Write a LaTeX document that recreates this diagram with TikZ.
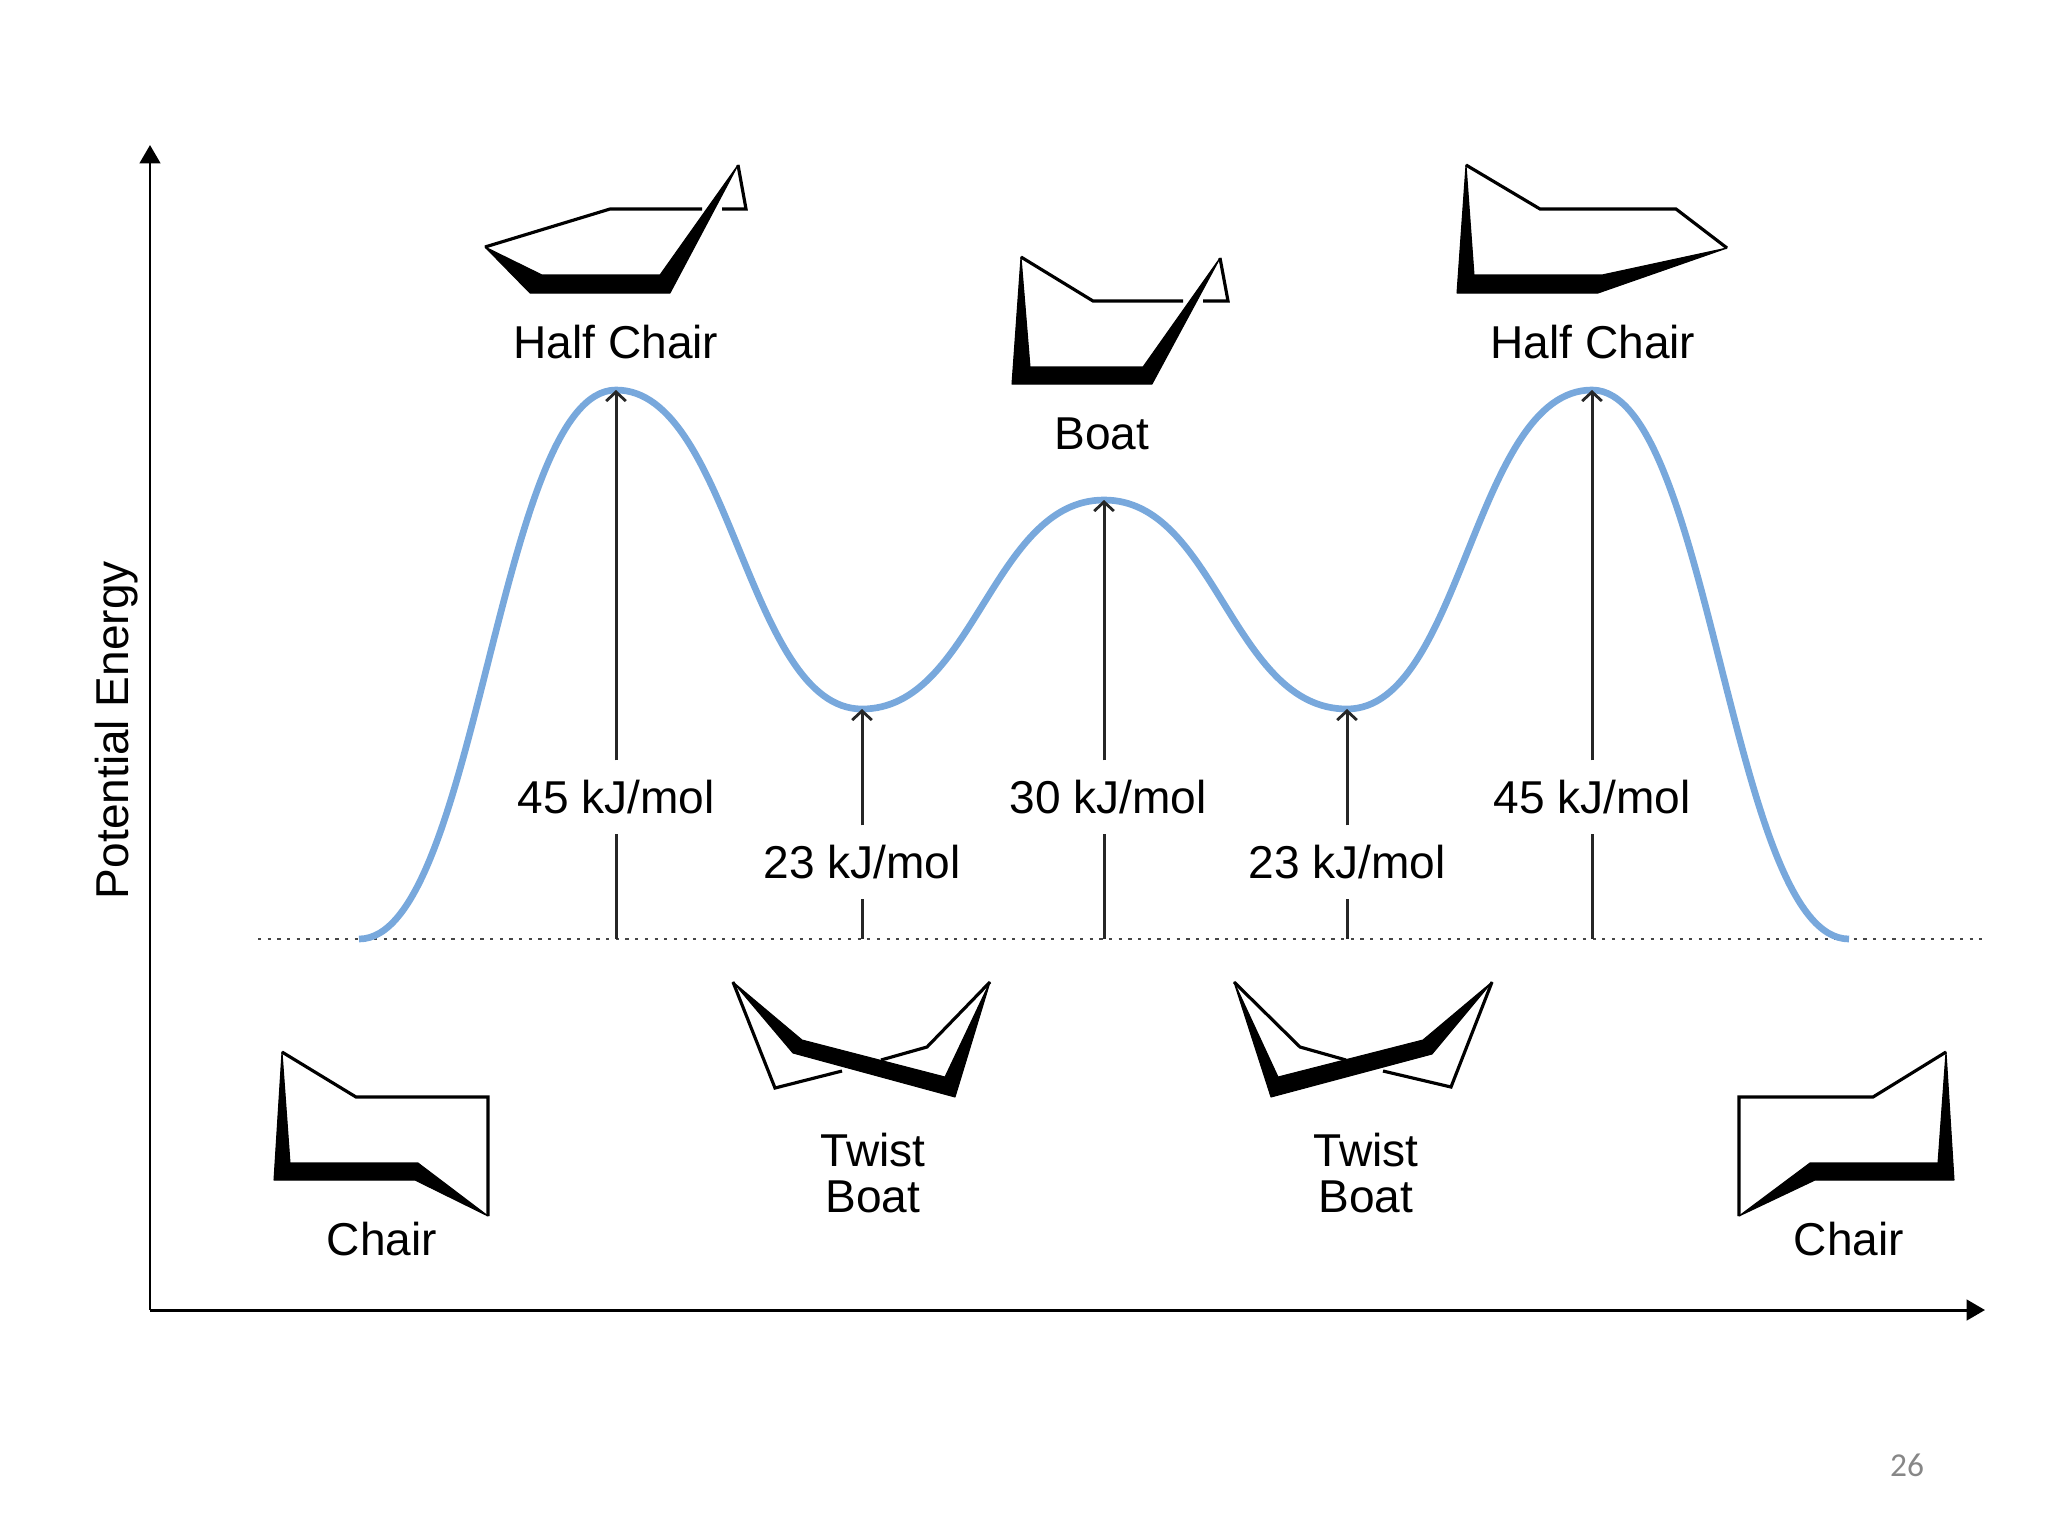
\documentclass[tikz,border=0pt]{standalone}
\usepackage{fontspec}
\setmainfont{Liberation Sans}
\newfontfamily\pagefont{Carlito}
\usetikzlibrary{positioning, arrows.meta}
\definecolor{curveblue}{RGB}{120,168,220}
\definecolor{dotgrey}{RGB}{70,70,70}
\definecolor{pagegrey}{RGB}{135,135,135}
\tikzset{
  axis/.style={line width=0.85pt,-{Triangle[length=5.2pt,width=5.8pt]}},
  bond/.style={line width=0.9pt,line join=miter,miter limit=10},
  wedge/.style={fill=black,draw=black,line width=0.3pt,line join=round},
  energy/.style={line width=0.85pt,draw=black!85},
  tip/.style={-{Straight Barb[length=2.6pt,width=5.6pt,line width=0.8pt]}},
  lab/.style={font=\fontsize{13.1pt}{13.2pt}\selectfont,align=center,inner sep=0pt},
  gap/.style={lab,minimum height=20.5pt,minimum width=10pt}
}
\begin{document}
\begin{tikzpicture}[x=0.01cm,y=-0.01cm]
\useasboundingbox (0,0) rectangle (2048,1536);
% axes
\coordinate (origin) at (150,1310);
\coordinate (ytop) at (150,145);
\coordinate (xend) at (1985,1310);
\draw[axis] (origin) -- (ytop);
\draw[axis] (origin) -- (xend);
\node[lab,rotate=90] (ylabel) at (117,730) {Potential Energy};
% baseline
\coordinate (baseL) at (258,939);
\coordinate (baseR) at (1982,939);
\draw[dotgrey,line width=0.6pt,dash pattern=on 0.9pt off 1.85pt] (baseL) -- (baseR);
% curve
\coordinate (start) at (359,939);
\coordinate (peakA) at (616,390);
\coordinate (peakB) at (862,709);
\coordinate (peakC) at (1104,500);
\coordinate (peakD) at (1347,709);
\coordinate (peakE) at (1592,390);
\coordinate (finish) at (1849,939);
\draw[curveblue,line width=1.9pt] (start)
  .. controls +(118,0) and +(-118,0) .. (peakA)
  .. controls +(115,0) and +(-115,0) .. (peakB)
  .. controls +(112,0) and +(-112,0) .. (peakC)
  .. controls +(112,0) and +(-115,0) .. (peakD)
  .. controls +(115,0) and +(-118,0) .. (peakE)
  .. controls +(118,0) and +(-118,0) .. (finish);
% energy arrows
\foreach \name/\x/\lx/\y/\val in
{A/616/616/797/45, B/862/862/862/23, C/1104/1108/797/30, D/1347/1347/862/23, E/1592/1592/797/45}
{
\coordinate (foot\name) at (\x,939);
\node[gap] (val\name) at (\lx,\y) {\val~kJ/mol};
\draw[energy] (foot\name) -- (val\name.south -| foot\name);
\draw[energy,tip] (val\name.north -| foot\name) -- (peak\name);
}
% half chair, left
\draw[bond] (485,247) -- (610,209) -- (702,209);
\draw[bond] (722,209) -- (746,209) -- (738,165);
\fill[wedge] (485,247) -- (542,275) -- (660,275) -- (738,165) -- (670,293) -- (530,293) -- cycle;
\node[lab] (halfchairL) at (616,342) {Half Chair};
% boat
\draw[bond] (1021,257) -- (1093,301) -- (1183,301);
\draw[bond] (1203,301) -- (1228,301) -- (1220,258);
\fill[wedge] (1021,257) -- (1030,367) -- (1143,367) -- (1220,258) -- (1152,384) -- (1012,384) -- cycle;
\node[lab] (boat) at (1102,434) {Boat};
% half chair, right
\draw[bond] (1466,165) -- (1540,209) -- (1676,209) -- (1727,248);
\fill[wedge] (1466,165) -- (1474,275) -- (1602,275) -- (1727,248) -- (1598,293) -- (1457,293) -- cycle;
\node[lab] (halfchairR) at (1593,342) {Half Chair};
% twist boat, left
\draw[bond] (733,982) -- (775,1088) -- (842,1071);
\draw[bond] (881,1060) -- (927,1047) -- (990,982);
\fill[wedge] (733,982) -- (802,1040) -- (945,1077) -- (990,982) -- (955,1097) -- (793,1053) -- cycle;
\node[lab] (twistL) at (873,1173) {Twist\\Boat};
% twist boat, right
\draw[bond] (1234,982) -- (1300,1047) -- (1346,1060);
\draw[bond] (1383,1071) -- (1451,1087) -- (1492,982);
\fill[wedge] (1234,982) -- (1278,1077) -- (1423,1040) -- (1492,982) -- (1432,1054) -- (1271,1097) -- cycle;
\node[lab] (twistR) at (1366,1173) {Twist\\Boat};
% chair, left
\draw[bond] (282,1052) -- (356,1097) -- (488,1097) -- (488,1216);
\fill[wedge] (282,1052) -- (290,1163) -- (418,1163) -- (488,1216) -- (415,1180) -- (274,1180) -- cycle;
\node[lab] (chairL) at (382,1239) {Chair};
% chair, right
\draw[bond] (1946,1052) -- (1873,1097) -- (1739,1097) -- (1739,1216);
\fill[wedge] (1946,1052) -- (1938,1163) -- (1810,1163) -- (1739,1216) -- (1815,1180) -- (1954,1180) -- cycle;
\node[lab] (chairR) at (1849,1239) {Chair};
% slide number
\node[pagegrey,inner sep=0pt,font=\pagefont\fontsize{9.5pt}{10pt}\selectfont] (pagenum) at (1907,1465) {26};
\end{tikzpicture}
\end{document}
